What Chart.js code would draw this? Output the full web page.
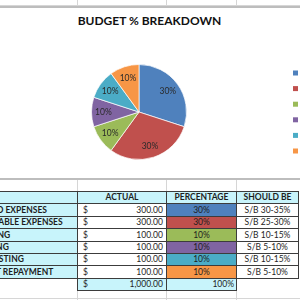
<!DOCTYPE html>
<html>
<head>
<meta charset="utf-8">
<script src="https://cdn.jsdelivr.net/npm/chart.js@4.4.0/dist/chart.umd.min.js"></script>
<style>
  html, body { margin: 0; padding: 0; width: 300px; height: 300px; overflow: hidden; background: #fff; }
  body { position: relative; font-family: Lato, 'Open Sans', sans-serif; color: #1e1e1e; }
  .gridline { position: absolute; background: #d6d6d6; }
  #chartBox { position: absolute; left: -10px; top: 6px; width: 320px; height: 170px; background: #fff;
              border-top: 2px solid #bdbdbd; border-bottom: 2px solid #bdbdbd; }
  #title { position: absolute; left: 0; width: 299px; top: 13px; text-align: center;
           font-size: 12px; line-height: 16px; font-weight: 700; color: #111; }
  #chartWrap { position: absolute; left: 0; top: 8px; width: 300px; height: 169px; }
  .cell { position: absolute; box-sizing: border-box; font-size: 8.5px; white-space: nowrap; overflow: hidden; }
  .bordered { border: 1px solid #3c3c3c; }
</style>
</head>
<body>
<div class="gridline" style="left:0;top:5px;width:300px;height:1px"></div>
<div class="gridline" style="left:77px;top:0;width:1px;height:300px"></div>
<div class="gridline" style="left:166px;top:0;width:1px;height:300px"></div>
<div class="gridline" style="left:236px;top:0;width:1px;height:300px"></div>
<div class="gridline" style="left:0;top:298px;width:300px;height:1px"></div>

<div id="chartBox"></div>
<div id="title">BUDGET % BREAKDOWN</div>
<div id="chartWrap"><canvas id="budgetPie"></canvas></div>
<div id="table"></div>

<script>
// data
const categories = ['FIXED EXPENSES', 'VARIABLE EXPENSES', 'SAVING', 'GIVING', 'INVESTING', 'DEBT REPAYMENT'];
const actual = [300, 300, 100, 100, 100, 100];
const percentages = [30, 30, 10, 10, 10, 10];
const shouldBe = ['S/B 30-35%', 'S/B 25-30%', 'S/B 10-15%', 'S/B 5-10%', 'S/B 10-15%', 'S/B 5-10%'];
const headers = ['', 'ACTUAL', 'PERCENTAGE', 'SHOULD BE'];
const totalActual = 1000;
const totalPercent = 100;

const sliceColors = ['#4f81bd', '#c0504d', '#9bbb59', '#8064a2', '#4bacc6', '#f79646'];
const cyan = '#c8f4fb';

// percentage labels inside the slices
const sliceLabels = {
  id: 'sliceLabels',
  afterDatasetsDraw(chart) {
    const ctx = chart.ctx;
    const meta = chart.getDatasetMeta(0);
    ctx.save();
    ctx.font = '8.5px Lato';
    ctx.fillStyle = '#2a2a2a';
    ctx.textAlign = 'center';
    ctx.textBaseline = 'middle';
    meta.data.forEach((arc, i) => {
      const p = arc.getProps(['x', 'y', 'startAngle', 'endAngle', 'outerRadius'], true);
      const mid = (p.startAngle + p.endAngle) / 2;
      const r = p.outerRadius * 0.75;
      ctx.fillText(chart.data.datasets[0].data[i] + '%', p.x + Math.cos(mid) * r, p.y + Math.sin(mid) * r);
    });
    ctx.restore();
  }
};

// small square legend on the right, text runs off the edge
const squareLegend = {
  id: 'squareLegend',
  afterDraw(chart) {
    const ctx = chart.ctx;
    const colors = chart.data.datasets[0].backgroundColor;
    ctx.save();
    ctx.font = '9px Lato';
    ctx.textBaseline = 'middle';
    chart.data.labels.forEach((label, i) => {
      const y = 65 + i * 15.6;
      ctx.fillStyle = colors[i];
      ctx.fillRect(293, y - 2.5, 5, 5);
      ctx.fillStyle = '#333';
      ctx.fillText(label, 302, y);
    });
    ctx.restore();
  }
};

new Chart(document.getElementById('budgetPie'), {
  type: 'pie',
  data: {
    labels: categories,
    datasets: [{
      data: percentages,
      backgroundColor: sliceColors,
      borderColor: 'rgba(255,255,255,0.7)',
      borderWidth: 1
    }]
  },
  options: {
    responsive: true,
    maintainAspectRatio: false,
    animation: false,
    layout: {
      padding: { left: 91, right: 113, top: 56, bottom: 17 }
    },
    plugins: {
      legend: { display: false },
      tooltip: { enabled: false }
    }
  },
  plugins: [sliceLabels, squareLegend]
});

// table under the chart
const table = document.getElementById('table');
const colX = [-40, 77, 166, 236, 298];
const rowTop = 191;
const rowH = 12.4;

function cell(col, row, text, style) {
  const div = document.createElement('div');
  div.className = 'cell' + (style.border === false ? '' : ' bordered');
  const y0 = Math.round(rowTop + row * rowH);
  const y1 = Math.round(rowTop + (row + 1) * rowH);
  div.style.left = colX[col] + 'px';
  div.style.top = y0 + 'px';
  div.style.width = (colX[col + 1] - colX[col] + 1) + 'px';
  div.style.height = (y1 - y0 + 1) + 'px';
  div.style.lineHeight = (y1 - y0 - 1) + 'px';
  div.style.background = style.bg || '#fff';
  div.style.textAlign = style.align || 'left';
  if (style.bold) div.style.fontWeight = '700';
  if (style.pad) div.style.padding = style.pad;
  div.innerHTML = text;
  table.appendChild(div);
  return div;
}

function money(v) {
  return v.toLocaleString('en-US', { minimumFractionDigits: 2, maximumFractionDigits: 2 });
}

function actualCell(row, value, bg) {
  const html = '<span style="float:left">$</span><span style="float:right">' + money(value) + '</span>';
  cell(1, row, html, { bg: bg, pad: '0 3px 0 5px' });
}

headers.forEach((h, c) => cell(c, 0, h, { bg: cyan, bold: true, align: 'center' }));

categories.forEach((name, i) => {
  const row = i + 1;
  cell(0, row, name, { bg: cyan, bold: true, pad: '0 0 0 18px' });
  actualCell(row, actual[i], '#fff');
  cell(2, row, percentages[i] + '%', { bg: sliceColors[i], align: 'center' });
  cell(3, row, shouldBe[i], { align: 'center' });
});

const totalRow = categories.length + 1;
actualCell(totalRow, totalActual, cyan);
cell(2, totalRow, totalPercent + '%', { bg: cyan, align: 'right', pad: '0 2px 0 0' });
</script>
</body>
</html>
